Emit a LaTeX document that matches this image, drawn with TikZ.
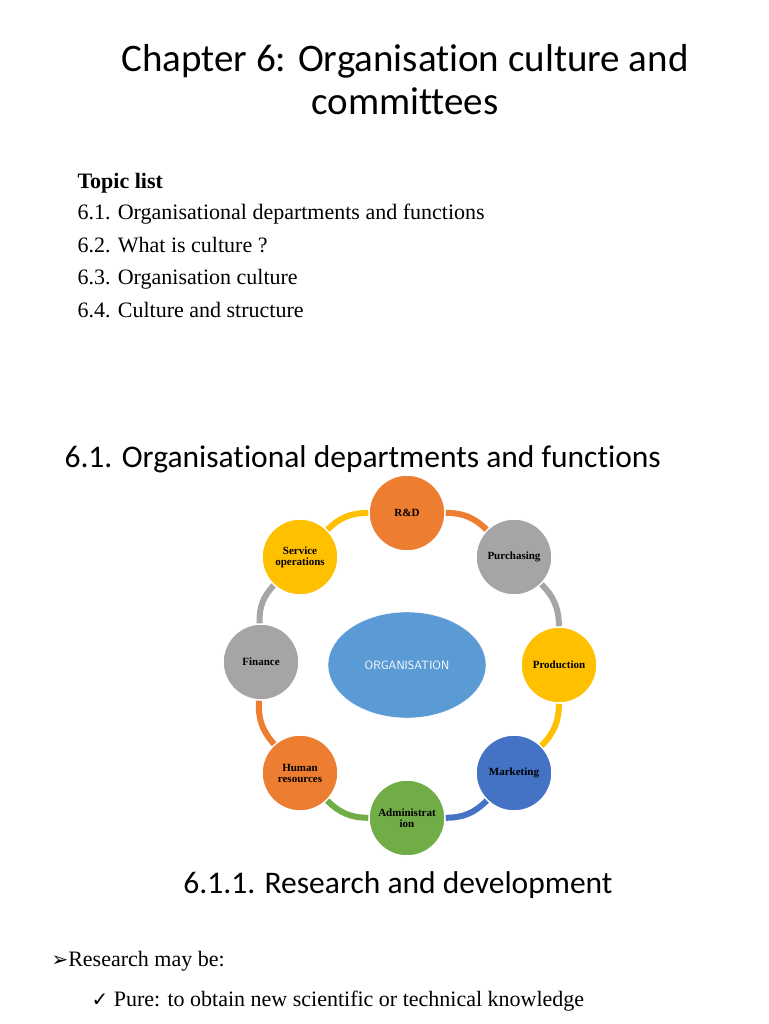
\documentclass[tikz,border=0pt]{standalone}
\usepackage{fontspec}
\setmainfont{Liberation Serif}
\newfontfamily\titlefont[Ligatures=NoCommon]{Carlito}
\newfontfamily\symfont{DejaVu Sans}
\usetikzlibrary{shapes.geometric}
\definecolor{deptorange}{HTML}{ED7D31}
\definecolor{deptgray}{HTML}{A5A5A5}
\definecolor{deptyellow}{HTML}{FFC000}
\definecolor{deptblue}{HTML}{4472C4}
\definecolor{deptgreen}{HTML}{70AD47}
\definecolor{orgblue}{HTML}{5B9BD5}
\tikzset{
  dept/.style={circle, draw=white, line width=1.5pt, minimum size=76pt, inner sep=1pt,
    align=center, font=\fontsize{11}{11}\selectfont\bfseries},
  ring/.style={line width=6pt, bend left=22.5},
  heading/.style={anchor=base west, font=\titlefont\fontsize{31.5}{31.5}\selectfont},
  topic/.style={anchor=base west, font=\fontsize{22}{22}\selectfont}
}
\begin{document}
\begin{tikzpicture}[x=1pt, y=-1pt]
    \useasboundingbox (0,0) rectangle (768,1024);
    % Title
    \node[font=\titlefont\fontsize{39}{43}\selectfont, align=center] (title) at (405,80)
      {Chapter 6: Organisation culture and\\committees};
    % Topic list
    \node[topic, font=\fontsize{22}{22}\selectfont\bfseries] (topics) at (74,189) {Topic list};
    \node[topic] (t1) at (74,220) {6.1. Organisational departments and functions};
    \node[topic] (t2) at (74,252) {6.2. What is culture ?};
    \node[topic] (t3) at (74,284) {6.3. Organisation culture};
    \node[topic] (t4) at (74,317) {6.4. Culture and structure};
    \node[heading] (sec) at (61,467) {6.1. Organisational departments and functions};
    % Departments
    \node[ellipse, fill=orgblue, draw=white, minimum width=158pt, minimum height=106pt,
      text=white, font=\sffamily\fontsize{12}{12}\selectfont] (org) at (407,665) {ORGANISATION};
    \node[dept, fill=deptorange] (rd) at (407,513) {R\&D};
    \node[dept, fill=deptgray] (purch) at (514,557) {Purchasing};
    \node[dept, fill=deptyellow] (prod) at (559,665) {Production};
    \node[dept, fill=deptblue] (mark) at (514,773) {Marketing};
    \node[dept, fill=deptgreen] (admin) at (407,818) {Administrat\\ion};
    \node[dept, fill=deptorange] (hr) at (300,773) {Human\\resources};
    \node[dept, fill=deptgray] (fin) at (261,662) {Finance};
    \node[dept, fill=deptyellow] (serv) at (300,557) {Service\\operations};
    % Ring connectors
    \draw[ring, deptorange] (rd) to (purch);
    \draw[ring, deptgray] (purch) to (prod);
    \draw[ring, deptyellow] (prod) to (mark);
    \draw[ring, deptblue] (mark) to (admin);
    \draw[ring, deptgreen] (admin) to (hr);
    \draw[ring, deptorange] (hr) to (fin);
    \draw[ring, deptgray] (fin) to (serv);
    \draw[ring, deptyellow] (serv) to (rd);
    % Research
    \node[heading, anchor=center] (sub) at (398,885) {6.1.1. Research and development};
    \node[topic] (r1) at (48,966) {{\symfont\fontsize{20}{20}\selectfont ➢}Research may be:};
    \node[topic] (r2) at (88,1006) {{\symfont\fontsize{20}{20}\selectfont ✓} Pure: to obtain new scientific or technical knowledge};
\end{tikzpicture}
\end{document}
